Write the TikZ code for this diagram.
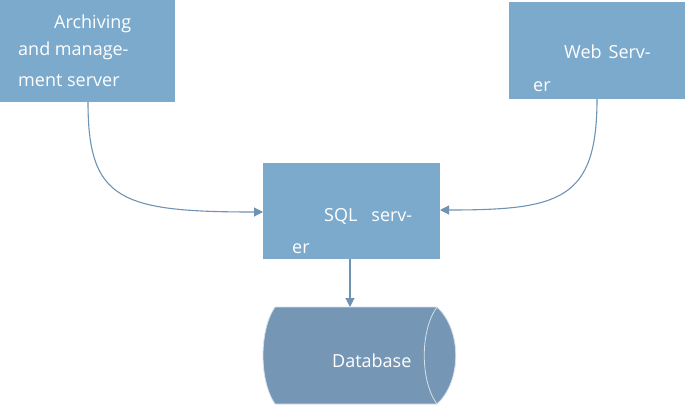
\documentclass[tikz,border=0pt]{standalone}
\usepackage{fontspec}
\setmainfont{Open Sans}
\usetikzlibrary{arrows.meta}
\definecolor{boxc}{HTML}{7BAACC}
\definecolor{dbc}{HTML}{7597B5}
\definecolor{arc}{HTML}{6F93B3}
\begin{document}
\begin{tikzpicture}[x=1pt,y=-1pt,
  box/.style={fill=boxc,draw=none},
  txt/.style={text=white,font=\fontsize{18}{22}\selectfont,anchor=base west,inner sep=0},
  conn/.style={draw=arc,line width=1.1pt,-{Triangle[length=9pt,width=9pt]}}]
\useasboundingbox (0,0) rectangle (685,405);
\fill[box] (0,0) rectangle (175,102);
\coordinate (a) at (88,102);
\fill[box] (509,2) rectangle (685,99);
\coordinate (w) at (597,99);
\fill[box] (263,163) rectangle (440,259);
\coordinate (sl) at (263,212); \coordinate (sr) at (440,210); \coordinate (sb) at (350,259);
\node[txt] (t1) at (54,28) {Archiving};
\node[txt] (t2) at (18,55) {and manage-};
\node[txt] (t3) at (18,86) {ment server};
\node[txt] (t4) at (564,58) {Web\hspace{7pt}Serv-};
\node[txt] (t5) at (533,91) {er};
\node[txt] (t6) at (324,221) {SQL\hspace{14pt}serv-};
\node[txt] (t7) at (292,253) {er};
% database
\fill[dbc,draw=white!70!dbc,line width=0.8pt] (275,307) -- (437,307) .. controls (462,330) and (462,381) .. (437,404) -- (275,404) .. controls (259,381) and (259,330) .. (275,307) -- cycle;
\draw[white!70!dbc,line width=0.8pt] (437,307) .. controls (420,330) and (420,381) .. (437,404);
\coordinate (dt) at (350,307);
\node[txt] (t8) at (332,367) {Database};
\draw[conn] (a) .. controls (88,200) and (120,212) .. (sl);
\draw[conn] (w) .. controls (597,200) and (560,210) .. (sr);
\draw[conn] (sb) -- (dt);
\end{tikzpicture}
\end{document}
